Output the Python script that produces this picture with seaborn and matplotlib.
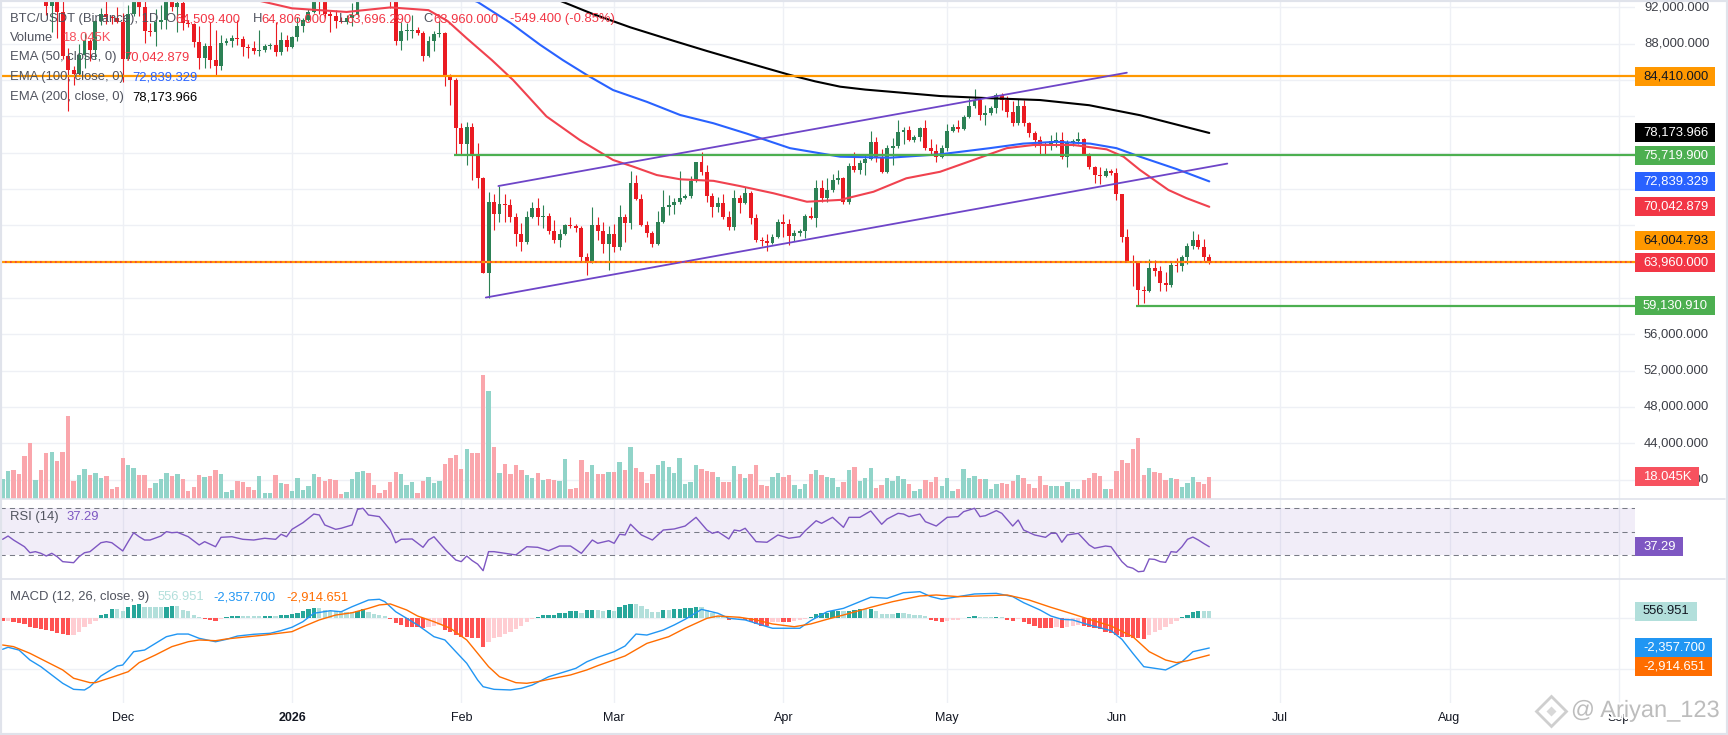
import numpy as np
import pandas as pd
import matplotlib
matplotlib.use("Agg")
import matplotlib.pyplot as plt
import matplotlib.patheffects as pe
from matplotlib.patches import Rectangle
from matplotlib.lines import Line2D
import seaborn as sns

sns.set_theme(style="white")
plt.rcParams['font.family'] = ['Liberation Sans', 'DejaVu Sans']

# =========================
# DATA  (prices in thousand USDT, day 0 = 2026-01-01)
# =========================
dates = pd.date_range("2025-11-09", "2026-06-18", freq="D")

opens = [
    # Nov 9-30
    102.3, 104.7, 106.0, 103.0, 101.6, 99.7, 94.5, 95.5, 94.2, 92.2, 92.9, 91.5, 86.6, 85.1, 84.7, 86.8, 88.3, 87.3, 90.5, 91.3, 90.9, 90.8,
    # Dec
    90.4, 86.3, 91.3, 93.5, 92.1, 89.4, 89.3, 90.4, 90.6, 92.7, 92.0, 92.5, 90.3, 90.2, 88.2, 86.4, 87.8, 86.2, 85.5, 88.1, 88.3, 88.6, 88.5, 87.6, 87.55, 87.2, 87.3, 87.8, 87.9, 87.1, 88.4,
    # Jan
    87.6, 88.7, 90.0, 90.6, 91.5, 93.8, 93.7, 91.3, 91.0, 90.5, 90.4, 90.8, 91.2, 95.3, 97.0, 95.5, 95.45, 95.1, 93.6, 92.6, 88.3, 89.4, 89.45, 89.5, 89.2, 86.6, 88.3, 89.1, 89.2, 84.6, 84.0,
    # Feb
    78.7, 77.0, 78.8, 75.75, 73.2, 62.8, 70.6, 69.25, 70.35, 70.2, 68.9, 67.1, 66.2, 68.9, 69.9, 68.9, 69.0, 67.4, 66.4, 67.05, 68.0, 67.9, 67.7, 64.55, 64.0, 68.0, 67.4, 65.9,
    # Mar
    67.1, 65.65, 68.9, 68.3, 72.7, 70.9, 68.0, 67.2, 65.9, 68.4, 70.05, 70.25, 70.6, 71.05, 71.2, 72.9, 74.95, 73.9, 71.25, 70.0, 70.5, 68.9, 67.85, 71.0, 70.5, 71.6, 68.8, 66.4, 66.3, 66.0, 66.75,
    # Apr
    68.35, 68.15, 66.85, 67.15, 67.4, 69.0, 68.8, 72.1, 71.0, 71.9, 73.0, 73.2, 70.6, 74.5, 74.1, 74.9, 75.3, 77.2, 75.55, 73.85, 76.5, 76.7, 78.3, 78.5, 77.4, 77.75, 78.7, 76.5, 76.2, 75.55,
    # May
    76.5, 78.4, 78.85, 78.6, 79.9, 81.1, 81.8, 80.15, 80.4, 80.9, 82.35, 81.8, 80.5, 79.3, 81.1, 79.25, 78.2, 77.4, 76.85, 76.7, 77.3, 77.45, 75.55, 77.1, 77.3, 77.5, 75.75, 74.45, 73.55, 73.4, 74.0,
    # Jun 1-18
    73.8, 71.4, 66.75, 64.05, 63.8, 60.9, 60.8, 63.25, 62.95, 61.7, 61.4, 63.6, 63.5, 64.5, 65.7, 66.4, 65.65, 64.5094,
]
highs = [
    105.0, 106.6, 107.5, 105.3, 104.0, 99.8, 96.8, 96.6, 96.0, 93.8, 92.9, 93.1, 87.5, 85.6, 88.0, 89.2, 88.5, 90.6, 91.9, 93.1, 91.2, 92.0,
    91.4, 92.3, 94.2, 94.1, 92.7, 90.3, 91.8, 92.3, 94.6, 94.5, 93.6, 92.7, 90.6, 90.3, 90.0, 88.1, 90.4, 89.5, 89.0, 88.6, 89.0, 90.6, 88.9, 88.0, 88.3, 89.5, 88.0, 88.1, 90.4, 89.3, 89.0,
    88.8, 90.9, 90.8, 91.8, 94.8, 94.4, 93.8, 91.6, 91.7, 90.9, 91.2, 92.5, 96.2, 97.9, 97.2, 95.9, 95.6, 95.5, 93.9, 92.8, 90.4, 90.3, 91.2, 89.8, 89.4, 88.9, 89.4, 90.5, 89.3, 84.7, 84.2,
    79.3, 79.4, 79.3, 77.1, 73.3, 71.7, 71.5, 72.3, 71.5, 70.9, 69.4, 68.3, 69.6, 70.6, 71.0, 70.2, 69.4, 68.6, 67.6, 68.2, 68.9, 68.1, 67.9, 65.0, 70.05, 68.95, 68.4, 67.9,
    68.1, 70.2, 69.3, 74.0, 73.5, 71.4, 68.5, 67.35, 69.6, 71.9, 71.35, 71.0, 74.0, 71.5, 73.4, 75.0, 76.1, 74.6, 71.6, 71.1, 71.5, 69.6, 71.9, 71.3, 72.25, 71.8, 69.3, 66.75, 67.0, 67.1, 68.7,
    69.3, 68.7, 67.5, 67.6, 69.2, 70.05, 73.0, 73.0, 73.2, 73.7, 74.1, 73.3, 74.85, 76.1, 75.2, 75.75, 78.4, 77.7, 76.4, 76.9, 77.65, 79.6, 78.85, 78.9, 78.0, 78.85, 79.6, 77.5, 77.0, 76.8,
    79.2, 79.2, 79.6, 80.1, 82.0, 83.0, 82.0, 81.3, 81.1, 82.6, 82.6, 82.2, 81.7, 81.9, 81.8, 79.4, 78.4, 77.8, 77.2, 77.9, 78.3, 78.3, 77.4, 77.5, 78.25, 77.6, 76.0, 74.55, 74.4, 74.3, 74.2,
    74.3, 71.45, 67.55, 64.7, 63.9, 61.3, 64.25, 64.2, 63.5, 62.9, 64.0, 64.35, 64.75, 66.0, 67.4, 67.05, 66.5, 64.806,
]
lows = [
    101.4, 104.3, 102.5, 100.8, 98.0, 94.0, 94.2, 93.0, 91.2, 89.3, 88.6, 86.3, 80.6, 83.5, 84.6, 85.3, 86.1, 86.3, 90.1, 90.2, 90.2, 90.3,
    83.8, 86.2, 91.1, 91.0, 88.1, 88.9, 87.7, 89.6, 89.6, 91.6, 89.3, 89.5, 89.8, 87.6, 85.2, 85.3, 85.3, 84.5, 85.1, 87.9, 87.6, 87.9, 86.6, 86.4, 86.9, 86.6, 87.1, 87.4, 86.7, 86.8, 87.2,
    87.5, 88.3, 89.3, 90.5, 91.4, 91.3, 90.8, 89.3, 89.7, 90.3, 90.2, 90.0, 91.0, 94.6, 94.9, 94.3, 94.9, 93.5, 91.9, 87.9, 87.3, 88.4, 88.6, 89.0, 86.1, 86.5, 87.2, 88.7, 83.4, 81.2, 75.8,
    75.7, 74.6, 73.0, 72.1, 62.7, 60.0, 67.5, 68.4, 68.4, 68.4, 65.75, 65.2, 65.9, 68.8, 68.0, 67.7, 67.0, 66.0, 65.65, 66.9, 67.7, 67.25, 64.0, 62.5, 63.8, 66.4, 64.9, 63.1,
    65.1, 65.3, 66.2, 67.6, 70.8, 67.9, 66.75, 65.65, 65.8, 68.3, 69.1, 69.2, 70.4, 70.9, 71.0, 72.75, 73.5, 70.6, 68.9, 69.5, 68.7, 67.45, 67.5, 69.4, 70.4, 68.2, 66.2, 65.7, 65.15, 65.9, 66.6,
    66.75, 65.85, 66.3, 66.8, 66.65, 68.7, 67.85, 70.6, 70.6, 71.65, 72.6, 70.3, 70.3, 73.9, 73.6, 73.55, 75.2, 75.0, 73.8, 73.8, 74.65, 76.5, 77.0, 77.3, 77.2, 77.3, 76.3, 75.75, 75.0, 75.4,
    76.2, 78.3, 78.3, 78.5, 79.8, 80.9, 79.6, 79.05, 80.1, 80.4, 80.7, 79.95, 78.95, 79.1, 78.9, 77.75, 76.65, 75.9, 75.8, 76.25, 76.6, 75.3, 74.45, 76.7, 77.0, 75.7, 74.2, 72.7, 72.6, 73.3, 73.5,
    70.8, 66.2, 64.0, 61.3, 59.13091, 59.5, 60.7, 62.4, 60.8, 60.8, 61.2, 62.9, 63.0, 63.75, 65.4, 65.4, 64.0, 63.69629,
]
closes = [
    104.7, 106.0, 103.0, 101.6, 99.7, 94.5, 95.5, 94.2, 92.2, 92.9, 91.5, 86.6, 85.1, 84.7, 86.8, 88.3, 87.3, 90.5, 91.3, 90.9, 90.8, 90.4,
    86.3, 91.3, 93.5, 92.1, 89.4, 89.3, 90.4, 90.6, 92.7, 92.0, 92.5, 90.3, 90.2, 88.2, 86.4, 87.8, 86.2, 85.5, 88.1, 88.3, 88.6, 88.5, 87.6, 87.55, 87.2, 87.3, 87.8, 87.9, 87.1, 88.4, 87.6,
    88.7, 90.0, 90.6, 91.5, 93.8, 93.7, 91.3, 91.0, 90.5, 90.4, 90.8, 91.2, 95.3, 97.0, 95.5, 95.45, 95.1, 93.6, 92.6, 88.3, 89.4, 89.45, 89.5, 89.2, 86.6, 88.3, 89.1, 89.2, 84.6, 84.0, 78.7,
    77.0, 78.8, 75.75, 73.2, 62.8, 70.6, 69.25, 70.35, 70.2, 68.9, 67.1, 66.2, 68.9, 69.9, 68.9, 69.0, 67.4, 66.4, 67.05, 68.0, 67.9, 67.7, 64.55, 64.0, 68.0, 67.4, 65.9, 67.1,
    65.65, 68.9, 68.3, 72.7, 70.9, 68.0, 67.2, 65.9, 68.4, 70.05, 70.25, 70.6, 71.05, 71.2, 72.9, 74.95, 73.9, 71.25, 70.0, 70.5, 68.9, 67.85, 71.0, 70.5, 71.6, 68.8, 66.4, 66.3, 66.0, 66.75, 68.35,
    68.15, 66.85, 67.15, 67.4, 69.0, 68.8, 72.1, 71.0, 71.9, 73.0, 73.2, 70.6, 74.5, 74.1, 74.9, 75.3, 77.2, 75.55, 73.85, 76.5, 76.7, 78.3, 78.5, 77.4, 77.75, 78.7, 76.5, 76.2, 75.55, 76.5,
    78.4, 78.85, 78.6, 79.9, 81.1, 81.8, 80.15, 80.4, 80.9, 82.35, 81.8, 80.5, 79.3, 81.1, 79.25, 78.2, 77.4, 76.85, 76.7, 77.3, 77.45, 75.55, 77.1, 77.3, 77.5, 75.75, 74.45, 73.55, 73.4, 74.0, 73.8,
    71.4, 66.75, 64.05, 63.8, 60.9, 60.8, 63.25, 62.95, 61.7, 61.4, 63.6, 63.5, 64.5, 65.7, 66.4, 65.65, 64.5094, 63.96,
]

# volume in thousand BTC
volume_k = [
    16.2, 22.7, 23.5, 20.2, 34.8, 45.3, 15.4, 23.5, 37.2, 38.0, 30.7, 38.0, 67.1, 14.6, 19.4, 24.3, 19.4, 21.0, 17.0, 18.6, 8.1, 9.7,
    33.2, 27.5, 25.1, 19.4, 19.4, 8.9, 12.9, 16.2, 21.0, 18.6, 20.2, 16.2, 6.5, 9.7, 19.4, 17.8, 18.6, 23.5, 20.2, 5.7, 7.3, 14.6, 13.8, 9.7, 7.3, 18.6, 4.9, 4.9, 19.4, 12.9, 12.1,
    6.5, 17.0, 7.3, 10.5, 20.2, 17.8, 14.6, 16.2, 15.4, 4.0, 5.7, 16.2, 21.8, 22.7, 21.0, 11.3, 4.9, 7.3, 13.8, 21.8, 20.2, 11.3, 13.8, 4.9, 14.6, 17.8, 12.9, 14.6, 28.3, 33.2, 35.6,
    24.3, 40.5, 37.2, 37.2, 100.3, 87.4, 42.1, 21.0, 28.3, 20.2, 27.5, 23.5, 19.4, 17.0, 21.0, 15.4, 16.2, 15.4, 14.6, 32.4, 8.1, 8.9, 31.6, 21.8, 27.5, 20.2, 20.2, 21.8,
    21.8, 29.9, 23.5, 42.1, 25.1, 21.8, 12.9, 20.2, 27.5, 30.7, 25.9, 21.0, 33.2, 12.1, 13.8, 27.5, 24.3, 22.7, 21.8, 17.8, 13.8, 13.8, 26.7, 20.2, 17.0, 20.2, 27.5, 11.3, 10.5, 17.8, 21.0,
    17.8, 19.4, 11.3, 8.1, 12.1, 20.2, 23.5, 19.4, 17.8, 17.0, 9.7, 13.8, 23.5, 25.9, 14.6, 17.0, 25.1, 8.9, 11.3, 17.0, 14.6, 18.6, 16.2, 12.1, 6.5, 8.1, 15.4, 13.8, 17.8, 10.5,
    17.0, 6.5, 8.1, 24.3, 17.0, 18.6, 16.2, 16.2, 8.1, 12.1, 12.9, 12.1, 14.6, 19.4, 17.0, 12.1, 8.9, 18.6, 11.3, 10.5, 10.5, 10.5, 13.8, 8.1, 8.1, 15.4, 17.0, 21.0, 18.6, 8.1, 8.1,
    22.7, 31.6, 29.1, 40.5, 49.3, 19.4, 25.1, 21.8, 21.0, 15.4, 17.0, 16.2, 9.7, 12.9, 17.8, 13.8, 12.5, 18.045,
]

# MACD histogram (thousand), one per day
macd_hist = [
    -0.21, -0.19, -0.26, -0.34, -0.45, -0.66, -0.79, -0.87, -0.93, -0.98, -1.14, -1.24, -1.32, -1.30, -1.06, -0.70, -0.45, -0.20, 0.26, 0.35, 0.74, 0.74,
    0.60, 0.93, 1.06, 1.10, 0.93, 0.90, 0.90, 0.88, 0.93, 0.95, 0.95, 0.66, 0.55, 0.30, 0.10, -0.08, -0.10, -0.18, -0.05, 0.08, 0.18, 0.20, 0.18, 0.18, 0.18, 0.17, 0.20, 0.22, 0.21, 0.26, 0.28,
    0.32, 0.45, 0.55, 0.70, 0.80, 0.78, 0.66, 0.60, 0.55, 0.53, 0.50, 0.48, 0.60, 0.70, 0.50, 0.38, 0.30, 0.15, -0.05, -0.35, -0.55, -0.66, -0.70, -0.72, -0.80, -0.66, -0.60, -0.55, -0.90, -1.05, -1.35,
    -1.45, -1.50, -1.55, -1.60, -2.25, -1.85, -1.60, -1.45, -1.25, -1.05, -0.85, -0.60, -0.30, -0.08, 0.10, 0.25, 0.28, 0.30, 0.40, 0.45, 0.55, 0.58, 0.45, 0.62, 0.66, 0.62, 0.61, 0.66,
    0.61, 0.87, 1.06, 1.14, 1.14, 0.98, 0.71, 0.53, 0.53, 0.66, 0.66, 0.71, 0.77, 0.79, 0.85, 0.93, 0.87, 0.66, 0.40, 0.19, 0.13, -0.13, -0.08, -0.03, -0.13, -0.26, -0.45, -0.58, -0.58, -0.32, -0.26,
    -0.26, -0.26, -0.19, -0.13, -0.05, 0.13, 0.32, 0.40, 0.45, 0.56, 0.61, 0.56, 0.61, 0.66, 0.71, 0.71, 0.74, 0.58, 0.34, 0.34, 0.34, 0.42, 0.42, 0.32, 0.26, 0.26, 0.19, -0.13, -0.19, -0.26,
    -0.19, -0.13, -0.11, 0.05, 0.08, 0.19, 0.13, 0.11, 0.08, 0.13, 0.08, -0.13, -0.19, -0.08, -0.32, -0.48, -0.58, -0.74, -0.74, -0.74, -0.66, -0.74, -0.66, -0.61, -0.53, -0.61, -0.66, -0.79, -0.87, -1.06, -1.19,
    -1.32, -1.46, -1.51, -1.54, -1.59, -1.61, -1.32, -1.06, -0.93, -0.71, -0.45, -0.19, 0.08, 0.26, 0.53, 0.58, 0.58, 0.556951,
]

# indicator lines at sample days
ema50_days = [-53, -40, -30, -15, -5, 0, 10, 18, 25, 28.5, 32, 36.6, 40.5, 46.6, 52.7, 58.8, 62.5, 66.8, 71.1, 77.2, 82, 88.2, 94.3,
              100.4, 106.5, 112.5, 118.7, 124.8, 130.9, 135.8, 143.1, 149.2, 152.3, 155.3, 160.5, 163.8, 168]
ema50_vals = [103.5, 100.5, 97.5, 94.0, 92.6, 91.9, 91.5, 92.0, 91.7, 90.5, 88.6, 86.2, 84.0, 80.0, 77.4, 75.2, 74.46, 73.54, 73.07, 72.9,
              72.33, 71.53, 70.6, 70.8, 71.7, 73.18, 73.9, 75.2, 76.5, 76.85, 76.85, 76.37, 75.56, 74.1, 71.9, 71.0, 70.042879]
ema100_days = [-53, -30, 0, 20, 28, 34, 40, 45.4, 49.6, 54, 58.8, 65, 71.1, 77.2, 83.3, 91.2, 100.4, 109.5, 118.7, 127.8, 133.9, 140,
               146.2, 151, 155.3, 162, 168]
ema100_vals = [106.5, 101.5, 95.0, 94.8, 94.0, 92.6, 90.3, 87.9, 86.2, 84.56, 82.9, 81.6, 80.15, 79.24, 78.1, 76.5, 75.56, 75.45, 75.82,
               76.5, 77.0, 77.2, 77.0, 76.5, 75.56, 74.2, 72.839329]
ema200_days = [-53, -30, 0, 20, 35, 48, 55, 62, 70, 76, 81.7, 91.2, 95.8, 100.4, 105, 109.5, 118.7, 127.8, 137, 146, 155.3, 168]
ema200_vals = [108.5, 105.0, 100.2, 98.5, 96.4, 93.0, 91.3, 89.8, 88.3, 87.2, 86.2, 84.56, 83.86, 83.27, 82.95, 82.72, 82.24, 82.0,
               81.8, 81.23, 80.13, 78.173966]

rsi_days = [-53, -52, -51, -49, -48, -47, -46, -45, -44, -43, -42, -40, -39, -38, -37, -35, -34, -33, -31, -30, -29, -28, -27, -26,
            -24, -23, -22, -21, -19, -17, -16, -14, -13, -11, -9, -7, -5, -3, -2, -1, 0, 2, 4, 5, 6, 8, 9, 11, 12, 13, 14, 16, 18, 19,
            20, 22, 24, 25, 26, 28, 30, 31, 32, 33, 34, 35, 36, 37, 39, 41, 43, 45, 47, 49, 51, 53, 55, 56, 58, 59, 60, 61, 62, 64, 66,
            68, 70, 72, 74, 76, 77, 78, 80, 81, 82, 83, 85, 87, 89, 91, 93, 94, 96, 97, 99, 101, 102, 104, 106, 108, 109, 111, 112, 113,
            115, 116, 118, 120, 122, 123, 125, 126, 127, 129, 130, 132, 133, 134, 136, 138, 139, 140, 141, 142, 144, 146, 147, 149, 150,
            151, 152, 153, 154, 155, 156, 157, 158, 159, 160, 161, 162, 163, 164, 165, 166, 167, 168]
rsi_vals = [43.6, 46.4, 43.0, 37.3, 32.2, 33.1, 31.7, 29.4, 31.7, 28.8, 24.6, 23.7, 28.8, 32.2, 33.1, 40.7, 41.6, 40.7, 33.7, 41.6,
            49.2, 45.8, 43.0, 43.0, 46.4, 50.1, 49.2, 49.6, 45.8, 38.8, 41.6, 37.3, 45.3, 45.8, 43.6, 43.0, 44.5, 43.6, 47.9, 45.8,
            52.1, 57.7, 65.1, 64.3, 55.8, 52.1, 53.0, 55.8, 69.1, 70.0, 64.3, 62.9, 51.5, 40.7, 43.6, 43.9, 36.8, 43.0, 45.8, 35.1,
            26.0, 24.6, 29.4, 25.5, 22.5, 16.9, 33.1, 33.1, 31.7, 30.3, 37.3, 36.8, 33.9, 37.9, 37.9, 31.7, 43.0, 40.2, 42.4, 40.2,
            47.9, 47.3, 56.4, 47.3, 43.0, 51.5, 52.4, 54.9, 62.3, 51.5, 48.7, 50.1, 43.9, 51.5, 50.7, 53.0, 41.6, 41.1, 47.3, 44.5,
            45.8, 50.9, 59.4, 57.2, 62.3, 53.8, 62.3, 62.3, 67.7, 56.4, 60.9, 65.7, 65.1, 62.9, 65.1, 58.6, 54.9, 62.3, 62.9, 67.1,
            70.0, 62.9, 63.7, 68.0, 65.7, 54.9, 60.0, 51.5, 47.3, 45.3, 48.7, 48.7, 41.1, 47.3, 48.7, 38.8, 36.0, 37.9, 37.3, 31.0,
            24.6, 20.3, 19.0, 16.0, 16.5, 26.9, 26.5, 24.6, 24.0, 33.1, 32.6, 37.3, 43.6, 45.5, 43.0, 40.0, 37.29]

macd_days = [-53, -52, -50, -48, -46, -44, -42, -40, -38, -37, -35, -32, -31, -29, -27, -25, -23, -21, -19, -17, -14, -12, -10, -7,
             -4, -2, 0, 2, 4, 7, 9, 11, 14, 16, 17, 19, 21, 23, 26, 28, 30, 32, 34, 35, 37, 40, 42, 44, 47, 50, 52, 54, 56, 59, 61,
             63, 65, 68, 70, 72, 75, 78, 80, 83, 86, 88, 91, 93, 95, 98, 101, 104, 106, 109, 112, 115, 117, 119, 122, 125, 129, 132,
             134, 137, 139, 141, 143, 146, 150, 152, 154, 156, 158, 160, 163, 165, 168]
macd_vals = [-2.46, -2.30, -2.52, -3.31, -3.84, -4.50, -5.16, -5.64, -5.69, -5.43, -4.58, -3.79, -3.71, -2.65, -2.52, -1.99, -1.46,
             -1.25, -1.25, -1.59, -1.86, -1.67, -1.41, -1.27, -1.19, -0.98, -0.71, -0.27, 0.40, 0.60, 0.52, 0.92, 1.45, 1.51, 1.32,
             0.52, 0.0, -0.53, -1.46, -1.72, -2.65, -3.57, -4.90, -5.43, -5.64, -5.69, -5.56, -5.30, -4.64, -4.24, -3.97, -3.45,
             -3.10, -2.65, -2.20, -1.25, -1.33, -0.93, -0.53, -0.08, 0.71, 0.40, 0.0, -0.13, -0.53, -0.79, -0.79, -0.79, -0.19,
             0.52, 0.79, 1.32, 1.67, 1.59, 2.03, 2.11, 1.72, 1.51, 1.72, 1.93, 1.98, 1.72, 1.24, 0.66, 0.18, -0.08, -0.13, -0.53,
             -0.98, -1.67, -2.78, -3.84, -3.97, -4.10, -3.45, -2.65, -2.3577]
signal_days = [-53, -51, -48, -45, -42, -40, -37, -36, -33, -30, -28, -25, -22, -19, -17, -14, -12, -8, -5, 0, 2, 5, 8, 11, 14, 16,
               18, 21, 23, 26, 29, 32, 34, 36, 38, 41, 43, 45, 48, 51, 54, 56, 61, 65, 69, 72, 76, 78, 82, 85, 88, 92, 95, 98, 101,
               106, 110, 115, 118, 122, 127, 131, 135, 139, 143, 146, 150, 154, 157, 160, 162, 164, 168]
signal_vals = [-2.12, -2.25, -2.78, -3.44, -4.10, -4.76, -5.11, -5.11, -4.68, -4.24, -3.52, -2.91, -2.25, -1.86, -1.72, -1.78,
               -1.64, -1.46, -1.33, -1.06, -0.67, -0.13, 0.26, 0.44, 0.79, 1.06, 1.14, 0.66, 0.18, -0.27, -0.79, -1.72, -2.78,
               -3.84, -4.64, -5.11, -5.16, -5.03, -4.76, -4.50, -4.10, -3.76, -2.99, -1.99, -1.46, -0.79, 0.0, 0.18, 0.08, -0.13,
               -0.45, -0.67, -0.45, -0.08, 0.26, 0.87, 1.32, 1.77, 1.85, 1.72, 1.79, 1.85, 1.45, 0.87, 0.34, -0.08, -0.61, -1.46,
               -2.65, -3.31, -3.52, -3.37, -2.914651]

# drawings
resistance_level = 84.41
support_mid_level = 75.7199
support_mid_start = 29.7
prev_level = 64.004793
low_level = 59.13091
low_level_start = 154.6
channel_up_days = [37.8, 152.9]
channel_up_vals = [72.33, 84.81]
channel_lo_days = [35.5, 171.3]
channel_lo_vals = [60.05, 74.8]

month_days = [-31, 0, 31, 59, 90, 120, 151, 181, 212, 243]
month_labels = ["Dec", "2026", "Feb", "Mar", "Apr", "May", "Jun", "Jul", "Aug", "Sep"]
price_ticks = [40, 44, 48, 52, 56, 60, 64, 68, 72, 76, 80, 84, 88, 92]

# =========================
# LAYOUT
# =========================
W, H = 1728, 735
fig = plt.figure(figsize=(W / 100, H / 100), dpi=100)
fig.patch.set_facecolor("white")


def rect(top, bottom, left=0, right=1635):
    return [left / W, 1 - bottom / H, (right - left) / W, (bottom - top) / H]


ax_vol = fig.add_axes(rect(0, 499))
ax = fig.add_axes(rect(0, 499))
ax_rsi = fig.add_axes(rect(499, 579))
ax_macd = fig.add_axes(rect(579, 703))

X0, X1 = -53.48, 245.97
P0, P1 = 37.861, 92.817
for a in (ax_vol, ax, ax_rsi, ax_macd):
    a.set_xlim(X0, X1)
    a.axis("off")
ax.set_ylim(P0, P1)
ax_vol.set_ylim(0, 403.7)
ax_rsi.set_ylim(9.83, 77.9)
ax_macd.set_ylim(-6.725, 3.12)

days = np.asarray((dates - pd.Timestamp("2026-01-01")).days, dtype=float)
o, h, l, c = map(np.asarray, (opens, highs, lows, closes))
up = c >= o

GRID = "#EEF0F5"
for md in month_days:
    for a in (ax_vol, ax_rsi, ax_macd):
        a.axvline(md, color=GRID, lw=1, zorder=0)
for p in price_ticks:
    fr = (p - P0) / (P1 - P0)
    ax_vol.plot([0, 1], [fr, fr], transform=ax_vol.transAxes, color=GRID, lw=1, zorder=0)
ax_macd.axhline(0, color=GRID, lw=1, zorder=0)
ax_macd.axhline(-4, color=GRID, lw=1, zorder=0)

# volume
vol_colors = np.where(up, "#91D4C9", "#FAA6AC")
ax_vol.bar(days, volume_k, width=0.8, color=vol_colors, linewidth=0, zorder=1)

# candles
UPC, DNC = "#2C8155", "#EA1B22"
cc = np.where(up, UPC, DNC)
ax.vlines(days, l, h, colors=cc, lw=0.8, zorder=3)
ax.bar(days, np.maximum(np.abs(c - o), 0.07), bottom=np.minimum(o, c), width=0.72,
       color=cc, linewidth=0, zorder=3.1)

# EMAs
sns.lineplot(x=ema200_days, y=ema200_vals, ax=ax, color="#000000", linewidth=1.5, zorder=4, estimator=None, sort=False)
sns.lineplot(x=ema100_days, y=ema100_vals, ax=ax, color="#2962FF", linewidth=1.5, zorder=4, estimator=None, sort=False)
sns.lineplot(x=ema50_days, y=ema50_vals, ax=ax, color="#F0424F", linewidth=1.5, zorder=4, estimator=None, sort=False)

# drawings
ax.hlines(resistance_level, X0, X1, color="#FF9800", lw=1.6, zorder=5)
ax.hlines(support_mid_level, support_mid_start, X1, color="#4CAF50", lw=1.6, zorder=5)
ax.hlines(low_level, low_level_start, X1, color="#4CAF50", lw=1.6, zorder=5)
ax.hlines(prev_level, X0, X1, color="#FF9800", lw=1.6, zorder=5)
ax.hlines(closes[-1], X0, X1, color="#F23645", lw=1.2, linestyles=(0, (1, 2)), zorder=5.5)
sns.lineplot(x=channel_up_days, y=channel_up_vals, ax=ax, color="#6E45C8", linewidth=1.3, zorder=5, estimator=None)
sns.lineplot(x=channel_lo_days, y=channel_lo_vals, ax=ax, color="#6E45C8", linewidth=1.3, zorder=5, estimator=None)
for a in (ax, ax_vol):
    a.axis("off")

# RSI pane
ax_rsi.axhspan(30, 70, color="#7E57C2", alpha=0.1, lw=0, zorder=0.5)
for lvl in (70, 50, 30):
    ax_rsi.axhline(lvl, color="#787B86", lw=0.75, dashes=(5, 4), zorder=1)
sns.lineplot(x=rsi_days, y=rsi_vals, ax=ax_rsi, color="#7E57C2", linewidth=1.0, zorder=3, estimator=None, sort=False)
ax_rsi.axis("off")

# MACD pane
hist = np.asarray(macd_hist)
prev = np.concatenate([[hist[0]], hist[:-1]])
hcol = np.where(hist >= 0, np.where(hist > prev, "#26A69A", "#B2DFDB"),
                np.where(hist > prev, "#FFCDD2", "#FF5252"))
ax_macd.bar(days, hist, width=0.78, color=hcol, linewidth=0, zorder=2)
sns.lineplot(x=macd_days, y=macd_vals, ax=ax_macd, color="#2196F3", linewidth=1.0, zorder=3, estimator=None, sort=False)
sns.lineplot(x=signal_days, y=signal_vals, ax=ax_macd, color="#FF6D00", linewidth=1.0, zorder=3, estimator=None, sort=False)
ax_macd.axis("off")

# =========================
# TEXT / LABELS
# =========================
renderer = fig.canvas.get_renderer()
FS = 9.4
TITLE = "#50535E"


def fmt(v):
    return "{:,.3f}".format(v * 1000)


def legend_row(y_px, pieces, x_px=10):
    x = x_px
    for s, col, gap in pieces:
        t = fig.text(x / W, 1 - y_px / H, s, color=col, fontsize=FS, va="center", ha="left", zorder=12)
        x += t.get_window_extent(renderer=renderer).width + gap


chg = closes[-1] - closes[-2]
RED = "#F23645"
legend_row(19, [("BTC/USDT (Binance), 1D", TITLE, 7),
                ("O", TITLE, 0), (fmt(opens[-1]), RED, 12),
                ("H", TITLE, 0), (fmt(highs[-1]), RED, 12),
                ("L", TITLE, 0), (fmt(lows[-1]), RED, 12),
                ("C", TITLE, 0), (fmt(closes[-1]), RED, 12),
                ("{} ({:+.2f}%)".format(fmt(chg), chg / closes[-2] * 100), RED, 0)])
legend_row(38, [("Volume", TITLE, 9), ("{:.3f}K".format(volume_k[-1]), "#F7525F", 0)])
legend_row(57, [("EMA (50, close, 0)", TITLE, 8), (fmt(ema50_vals[-1]), RED, 0)])
legend_row(77, [("EMA (100, close, 0)", TITLE, 8), (fmt(ema100_vals[-1]), "#2962FF", 0)])
legend_row(97, [("EMA (200, close, 0)", TITLE, 8), (fmt(ema200_vals[-1]), "#000000", 0)])
legend_row(517, [("RSI (14)", TITLE, 8), ("{:.2f}".format(rsi_vals[-1]), "#7E57C2", 0)])
legend_row(597, [("MACD (12, 26, close, 9)", TITLE, 8), ("{:.3f}".format(macd_hist[-1] * 1000), "#B2DFDB", 10),
                 (fmt(macd_vals[-1]), "#2196F3", 10), (fmt(signal_vals[-1]), "#FF6D00", 0)])


def y_disp(a, v):
    return a.transData.transform((0, v))[1]


def scale_label(a, value, text, bg, fg, shift=0.0):
    yd = y_disp(a, value) + shift
    t = fig.text(1643 / W, yd / H, text, color=fg, fontsize=FS, va="center", ha="left", zorder=11)
    w = t.get_window_extent(renderer=renderer).width
    fig.add_artist(Rectangle((1635 / W, (yd - 9.5) / H), (w + 15) / W, 19 / H,
                             transform=fig.transFigure, fc=bg, ec="none", zorder=10))
    return yd


# coloured labels on the price scale
main_label_y = [
    scale_label(ax, resistance_level, fmt(resistance_level), "#FF9800", "#131722"),
    scale_label(ax, ema200_vals[-1], fmt(ema200_vals[-1]), "#000000", "white"),
    scale_label(ax, support_mid_level, fmt(support_mid_level), "#4CAF50", "white"),
    scale_label(ax, ema100_vals[-1], fmt(ema100_vals[-1]), "#2962FF", "white"),
    scale_label(ax, ema50_vals[-1], fmt(ema50_vals[-1]), RED, "white"),
    scale_label(ax, prev_level, fmt(prev_level), "#FF9800", "#131722", shift=21),
    scale_label(ax, closes[-1], fmt(closes[-1]), RED, "white"),
    scale_label(ax, low_level, fmt(low_level), "#4CAF50", "white"),
]
scale_label(ax_vol, volume_k[-1], "{:.3f}K".format(volume_k[-1]), "#F7525F", "white")
scale_label(ax_rsi, rsi_vals[-1], "{:.2f}".format(rsi_vals[-1]), "#7E57C2", "white")
scale_label(ax_macd, macd_hist[-1], "{:.3f}".format(macd_hist[-1] * 1000), "#B2DFDB", "#131722")
scale_label(ax_macd, macd_vals[-1], fmt(macd_vals[-1]), "#2196F3", "white")
scale_label(ax_macd, signal_vals[-1], fmt(signal_vals[-1]), "#FF6D00", "white", shift=-11)

# price scale ticks (hidden where a coloured label sits)
for p in price_ticks:
    yd = y_disp(ax, p)
    if any(abs(yd - yl) < 17 for yl in main_label_y):
        continue
    fig.text(1644 / W, yd / H, fmt(p), color="#3D3F47", fontsize=FS, va="center", ha="left", zorder=3)
fig.text(1644 / W, y_disp(ax_macd, 0) / H, "0.000", color="#3D3F47", fontsize=FS, va="center", ha="left", zorder=3)

# time axis
for md, lab in zip(month_days, month_labels):
    xd = ax.transData.transform((md, 0))[0]
    fig.text(xd / W, 1 - 718 / H, lab, color="#131722", fontsize=9, ha="center", va="center",
             fontweight="bold" if lab == "2026" else "normal", zorder=3)

# pane separators and frame
for yp in (499, 579):
    fig.add_artist(Line2D([0, 1725 / W], [1 - yp / H] * 2, color="#E0E3EB", lw=1.2, transform=fig.transFigure))
fig.add_artist(Rectangle((0, 0), 1, 1, transform=fig.transFigure, fill=False, ec="#E0E3EB", lw=3, zorder=20))

# watermark
fig.text(1571 / W, 1 - 711 / H, "@ Ariyan_123", fontsize=17, color="#BDBDBD", ha="left", va="center", zorder=15,
         path_effects=[pe.withStroke(linewidth=3, foreground="white")])
fig.add_artist(Line2D([1551 / W], [1 - 711 / H], marker="D", markersize=15, mfc="none", mec="#CFCFCF", mew=2,
                      transform=fig.transFigure, zorder=15))
fig.add_artist(Line2D([1551 / W], [1 - 711 / H], marker="D", markersize=5, mfc="#D8D8D8", mec="none",
                      transform=fig.transFigure, zorder=15))

fig.savefig("out.png", dpi=100, facecolor="white")
